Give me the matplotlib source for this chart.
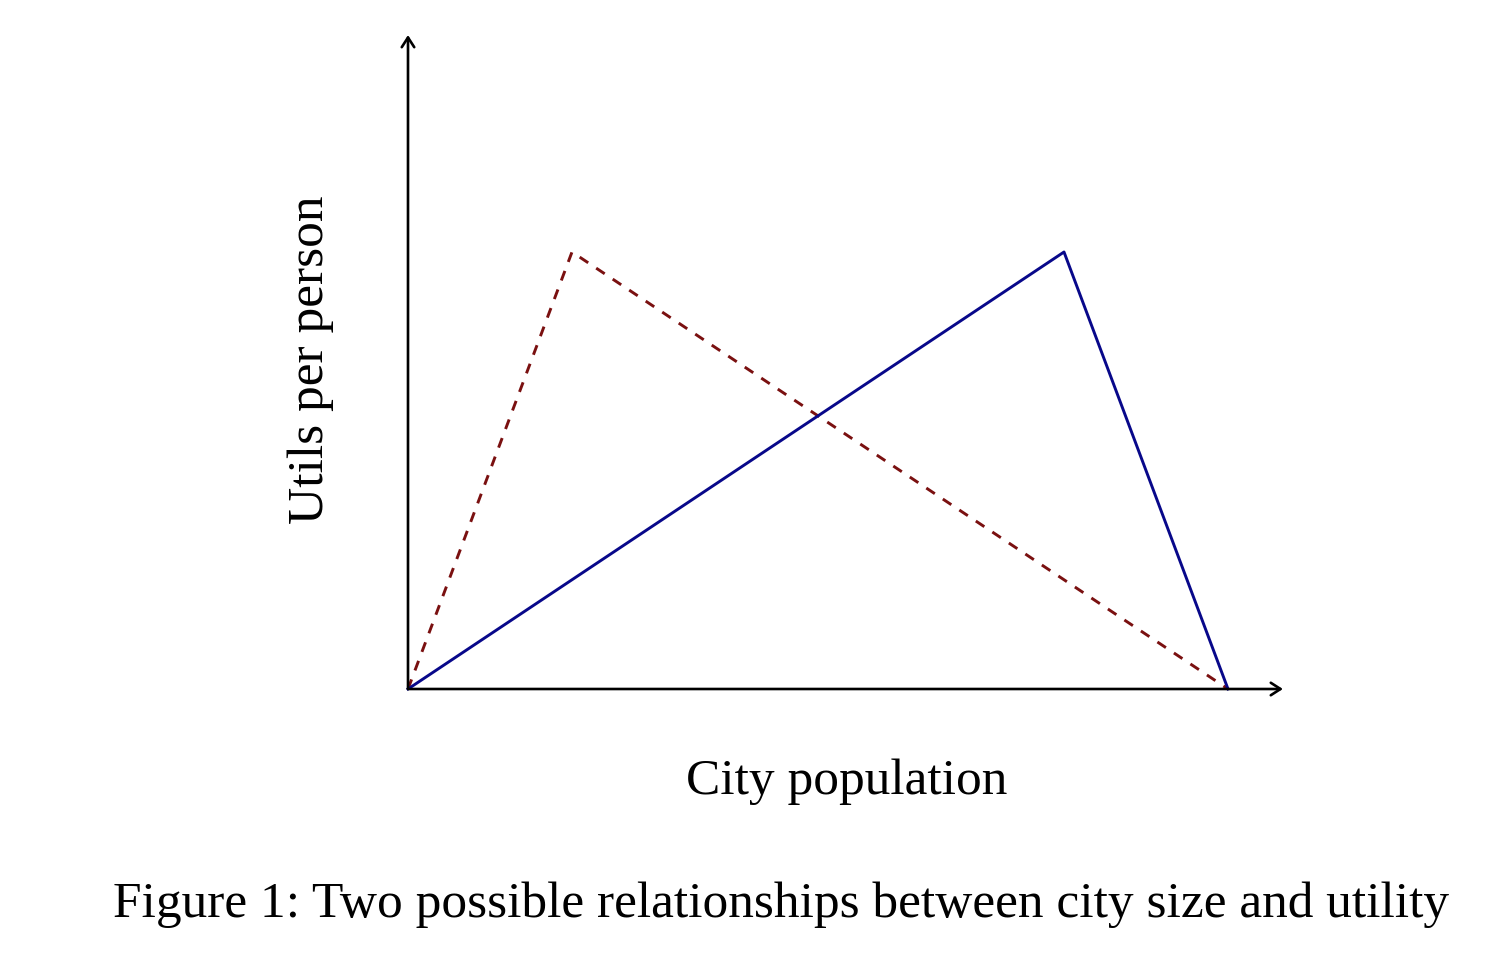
import matplotlib
matplotlib.use("Agg")
import matplotlib.pyplot as plt

# Data (arbitrary units)
x_red = [0, 1, 5]
y_red = [0, 2, 0]
x_blue = [0, 4, 5]
y_blue = [0, 2, 0]
x_axis_end = 5.335
y_axis_end = 2.993
xlabel = "City population"
ylabel = "Utils per person"
caption = "Figure 1: Two possible relationships between city size and utility"

W, H = 1500, 956
fig = plt.figure(figsize=(W / 100, H / 100), dpi=100)
ax = fig.add_axes([0, 0, 1, 1])
ax.set_axis_off()

sx, sy = 164.0, 218.5
x0, y0 = 408, 689
ax.set_xlim(-x0 / sx, (W - x0) / sx)
ax.set_ylim(-(H - y0) / sy, y0 / sy)

red = "#7a1010"
blue = "#08088a"
ax.plot(x_red, y_red, color=red, lw=2.1, ls=(0, (3.5, 3.3)), zorder=2)
ax.plot(x_blue, y_blue, color=blue, lw=2.1, zorder=3)

arrow = dict(arrowstyle="->,head_length=0.7,head_width=0.45", color="black", lw=1.9,
             shrinkA=0, shrinkB=0)
ax.annotate("", xy=(x_axis_end, 0), xytext=(0, 0), arrowprops=arrow, zorder=4)
ax.annotate("", xy=(0, y_axis_end), xytext=(0, 0), arrowprops=arrow, zorder=4)

font = "Liberation Serif"
fs = 37
fig.text(847 / W, 1 - 794 / H, xlabel, ha="center", va="baseline", fontsize=fs, family=font)
fig.text(311 / W, 1 - 360 / H, ylabel, ha="center", va="center", rotation=90, fontsize=fs, family=font)
fig.text(781 / W, 1 - 917 / H, caption, ha="center", va="baseline", fontsize=fs, family=font)

fig.savefig("out.png", dpi=100)
